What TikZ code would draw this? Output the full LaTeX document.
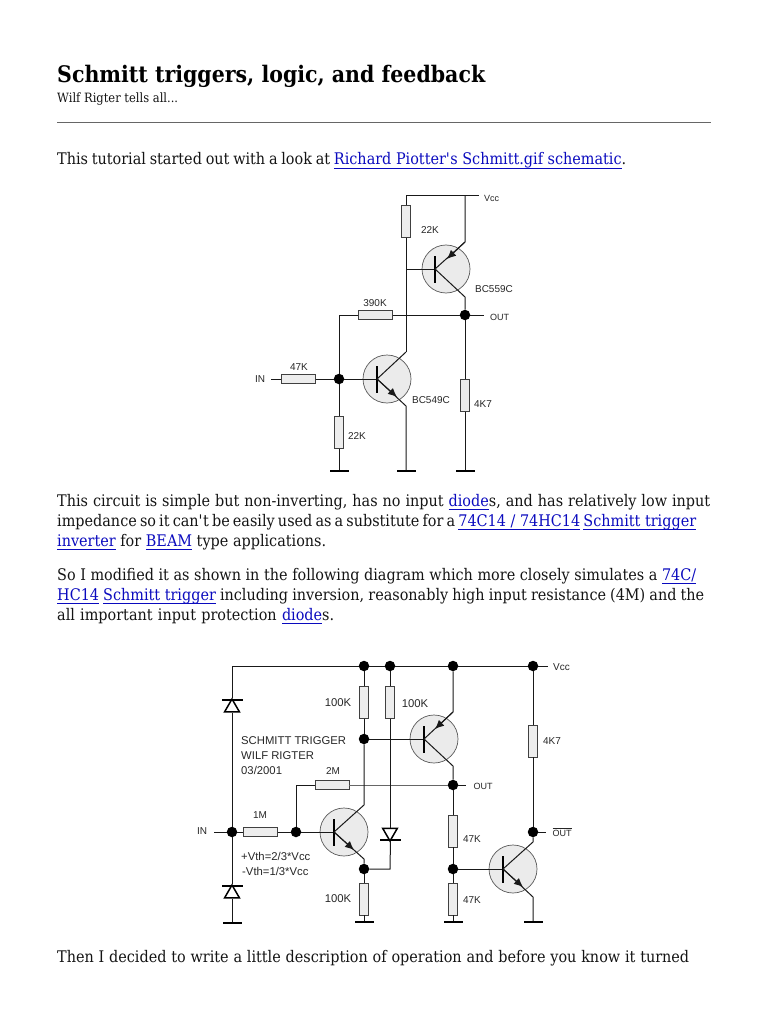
\documentclass[tikz,border=0pt]{standalone}
\usepackage{fontspec}
\setmainfont[FakeStretch=0.9]{DejaVu Serif}
\setsansfont{Liberation Sans}
\usetikzlibrary{arrows.meta,shapes.geometric}
\definecolor{linkblue}{RGB}{10,10,190}
\definecolor{bodygray}{RGB}{20,20,20}
\newcommand{\plink}[1]{\textcolor{linkblue}{\underline{\smash{#1}\rule[-1.8pt]{0pt}{0pt}}}}

\begin{document}
\begin{tikzpicture}
[
x=1pt, y=-1pt,
heading/.style={anchor=base west, inner sep=0pt, font=\bfseries\fontsize{22.8}{28}\selectfont},
subhead/.style={anchor=base west, inner sep=0pt, text=bodygray, font=\fontsize{12.8}{16}\selectfont},
bodyline/.style={anchor=base west, inner sep=0pt, text=bodygray, font=\fontsize{16}{20}\selectfont},
lbl/.style={inner sep=0pt, text=black!85, font=\sffamily\fontsize{10}{12}\selectfont},
lblw/.style={lbl, anchor=base west},
lblb/.style={lbl, font=\sffamily\fontsize{11.3}{13}\selectfont},
lblbw/.style={lblb, anchor=base west},
wire/.style={line width=1pt, draw=black!90},
thinwire/.style={line width=0.8pt, draw=black!60},
emit/.style={wire, -{Latex[length=9pt,width=8pt]}},
junc/.style={circle, fill=black, inner sep=0pt, minimum size=10.5pt},
resv/.style={rectangle, draw=black!75, line width=0.8pt, fill=black!7, inner sep=0pt, minimum width=9.5pt, minimum height=32pt},
resh/.style={rectangle, draw=black!75, line width=0.8pt, fill=black!7, inner sep=0pt, minimum width=34pt, minimum height=9pt},
tran/.style={circle, draw=black!65, line width=0.7pt, fill=black!8, inner sep=0pt, minimum size=48pt},
tbar/.style={rectangle, fill=black, inner sep=0pt, minimum width=2pt, minimum height=27pt},
gnd/.style={rectangle, fill=black, inner sep=0pt, minimum width=19pt, minimum height=2pt},
dbar/.style={rectangle, fill=black, inner sep=0pt, minimum width=21pt, minimum height=2pt},
dup/.style={regular polygon, regular polygon sides=3, draw=black, line width=1.5pt, fill=white, inner sep=0pt, minimum size=17pt},
ddown/.style={dup, shape border rotate=180}
]
\useasboundingbox (0,0) rectangle (768,1024);

%Page text
\node[heading]  (title)   at (57,83)  {Schmitt triggers, logic, and feedback};
\node[subhead]  (byline)  at (57,103) {Wilf Rigter tells all...};
\coordinate     (rulel)   at (57,122.5);
\coordinate     (ruler)   at (711,122.5);
\draw[line width=1.2pt, draw=black!60] (rulel) -- (ruler);
\node[bodyline] (intro)   at (57,165) {\makebox[569pt][s]{This tutorial started out with a look at \plink{Richard Piotter\textquotesingle s Schmitt.gif schematic}.}};
\node[bodyline] (parafa)  at (57,506) {\makebox[653pt][s]{This circuit is simple but non-inverting, has no input \plink{diode}s, and has relatively low input}};
\node[bodyline] (parafb)  at (57,526) {\makebox[639pt][s]{impedance so it can\textquotesingle t be easily used as a substitute for a \plink{74C14 / 74HC14} \plink{Schmitt trigger}}};
\node[bodyline] (parafc)  at (57,546) {\makebox[269pt][s]{\plink{inverter} for \plink{BEAM} type applications.}};
\node[bodyline] (paraga)  at (57,580) {\makebox[639pt][s]{So I modified it as shown in the following diagram which more closely simulates a \plink{74C/}}};
\node[bodyline] (paragb)  at (57,600) {\makebox[647pt][s]{\plink{HC14} \plink{Schmitt trigger} including inversion, reasonably high input resistance (4M) and the}};
\node[bodyline] (paragc)  at (57,620) {\makebox[277pt][s]{all important input protection \plink{diode}s.}};
\node[bodyline] (parah)   at (57,962) {\makebox[632pt][s]{Then I decided to write a little description of operation and before you know it turned}};

%First circuit
\coordinate     (avccl)  at (406,196);
\coordinate     (avcce)  at (465,196);
\coordinate     (avccr)  at (479,196);
\coordinate     (abase)  at (406,269);
\coordinate     (across) at (339,315);
\coordinate     (aoutr)  at (484,315);
\coordinate     (ain)    at (271,379);
\node[tran]     (qbc)    at (446,269) {};
\node[tbar]     (qbcbar) at (435,269) {};
\coordinate     (qbce)   at (465,242);
\coordinate     (qbct)   at (447,259);
\coordinate     (qbcc)   at (465,297);
\node[tran]     (qbd)    at (387,379) {};
\node[tbar]     (qbdbar) at (377,379) {};
\coordinate     (qbdc)   at (406,352);
\coordinate     (qbde)   at (406,406);
\coordinate     (qbdt)   at (397,397);
\node[junc]     (aout)   at (465,315) {};
\node[junc]     (anode)  at (339,379) {};
\node[resv, node distance=25.5pt] (rtop)  [below of=avccl] {};
\node[resh, node distance=36.5pt] (rfb)   [right of=across] {};
\node[resh, node distance=40.5pt] (rin)   [left of=anode] {};
\node[resv, node distance=53.5pt] (rlow)  [below of=anode] {};
\node[resv, node distance=80.5pt] (rout)  [below of=aout] {};
\node[gnd]      (gnda)   at (339,471) {};
\node[gnd]      (gndb)   at (406,471) {};
\node[gnd]      (gndc)   at (465,471) {};

\node[lblw] (lvcca) at (484,201.5) {\fontsize{9}{11}\selectfont Vcc};
\node[lbl]  (ltop)  at (430,230) {22K};
\node[lbl]  (lqbc)  at (494,289) {BC559C};
\node[lbl]  (lfb)   at (375,303) {390K};
\node[lblw] (louta) at (490,320) {\fontsize{9}{11}\selectfont OUT};
\node[lbl]  (lin)   at (299,367) {47K};
\node[lbl]  (lina)  at (260,379) {IN};
\node[lbl]  (lqbd)  at (431,400) {BC549C};
\node[lbl]  (lout)  at (483,404) {4K7};
\node[lbl]  (llow)  at (357,436) {22K};

%Lines
\draw[wire] (avccl) -- (avccr);
\draw[wire] (avccl) -- (rtop);
\draw[wire] (rtop) -- (qbdc);
\draw[wire] (abase) -- (qbcbar);
\draw[wire] (avcce) -- (qbce) -- (qbcbar.center);
\draw[emit] (qbce) -- (qbct);
\draw[wire] (qbcbar.center) -- (qbcc) -- (aout);
\draw[wire] (aout) -- (aoutr);
\draw[wire] (anode) -- (across) -- (rfb);
\draw[wire] (rfb) -- (aout);
\draw[wire] (ain) -- (rin);
\draw[wire] (rin) -- (anode);
\draw[wire] (anode) -- (qbdbar);
\draw[wire] (qbdbar.center) -- (qbdc);
\draw[wire] (qbdbar.center) -- (qbde) -- (gndb);
\draw[emit] (qbdbar.center) -- (qbdt);
\draw[wire] (anode) -- (rlow);
\draw[wire] (rlow) -- (gnda);
\draw[wire] (aout) -- (rout);
\draw[wire] (rout) -- (gndc);

%Second circuit
\coordinate     (bvccl)  at (232,666);
\coordinate     (bvccr)  at (548,666);
\coordinate     (bin)    at (214,832);
\coordinate     (bfbc)   at (296,785);
\coordinate     (boutr)  at (466,785);
\coordinate     (boutbr) at (546,832);
\node[junc]     (jvcca)  at (364,666) {};
\node[junc]     (jvccb)  at (390,666) {};
\node[junc]     (jvccc)  at (453,666) {};
\node[junc]     (jvccd)  at (533,666) {};
\node[junc]     (jbase)  at (364,739) {};
\node[junc]     (jout)   at (453,785) {};
\node[junc]     (jin)    at (232,832) {};
\node[junc]     (jmid)   at (296,832) {};
\node[junc]     (jinv)   at (533,832) {};
\node[junc]     (jemit)  at (364,869) {};
\node[junc]     (jdiv)   at (453,869) {};
\coordinate     (dcorn)  at (390,869);

\node[tran]     (qa)     at (344,832) {};
\node[tbar]     (qabar)  at (334,832) {};
\coordinate     (qac)    at (364,805);
\coordinate     (qae)    at (364,859);
\coordinate     (qat)    at (354,850);
\node[tran]     (qb)     at (434,739) {};
\node[tbar]     (qbbar)  at (424,739) {};
\coordinate     (qbe)    at (453,712);
\coordinate     (qbc2)   at (453,766);
\coordinate     (qbt)    at (435,729);
\node[tran]     (qc)     at (513,869) {};
\node[tbar]     (qcbar)  at (503,869) {};
\coordinate     (qcc)    at (533,842);
\coordinate     (qce)    at (533,897);
\coordinate     (qct)    at (523,887);

\node[resv, node distance=36.5pt] (rba)  [below of=jvcca] {};
\node[resv, node distance=36.5pt] (rbb)  [below of=jvccb] {};
\node[resv, node distance=75pt]   (rbc)  [below of=jvccd] {};
\node[resh, node distance=28.5pt] (rbd)  [right of=jin] {};
\node[resh, node distance=36pt]   (rbe)  [right of=bfbc] {};
\node[resv, node distance=30pt]   (rbf)  [below of=jemit] {};
\node[resv, node distance=46pt]   (rbg)  [below of=jout] {};
\node[resv, node distance=30pt]   (rbh)  [below of=jdiv] {};

\node[dbar]     (dab)    at (232,699.5) {};
\node[dup]      (da)     at (232,707.5) {};
\node[dbar]     (dbb)    at (232,885.5) {};
\node[dup]      (db)     at (232,893.5) {};
\node[dbar]     (dcb)    at (390.5,840) {};
\node[ddown]    (dc)     at (390,832.5) {};

\node[gnd]      (gndd)   at (232,923) {};
\node[gnd]      (gnde)   at (364,922) {};
\node[gnd]      (gndf)   at (453,922) {};
\node[gnd]      (gndg)   at (533,922) {};

\node[lblw]  (lvccb) at (553,670) {Vcc};
\node[lblb]  (lba)   at (338,703) {100K};
\node[lblb]  (lbb)   at (415,704) {100K};
\node[lblbw] (ltit)  at (241,744) {SCHMITT TRIGGER};
\node[lblbw] (lwho)  at (241,759) {WILF RIGTER};
\node[lblbw] (ldate) at (241,774) {03/2001};
\node[lbl]   (lbe)   at (333,771) {2M};
\node[lbl]   (lbc)   at (552,741) {4K7};
\node[lbl]   (loutb) at (483,786) {\fontsize{9}{11}\selectfont OUT};
\node[lbl]   (lbd)   at (260,815) {1M};
\node[lbl]   (linb)  at (202,831) {IN};
\node[lbl]   (lnout) at (562,832) {\fontsize{9}{11}\selectfont $\overline{\mbox{OUT}}$};
\node[lbl]   (lbg)   at (472,839) {47K};
\node[lblbw] (lvtha) at (241,860) {+Vth=2/3*Vcc};
\node[lblbw] (lvthb) at (242,875) {-Vth=1/3*Vcc};
\node[lblb]  (lbf)   at (338,899) {100K};
\node[lbl]   (lbh)   at (472,900) {47K};

%Lines
\draw[wire] (bvccl) -- (jvcca);
\draw[wire] (jvcca) -- (jvccb);
\draw[wire] (jvccb) -- (jvccc);
\draw[wire] (jvccc) -- (jvccd);
\draw[wire] (jvccd) -- (bvccr);
\draw[wire] (bvccl) -- (dab);
\draw[wire] (da) -- (jin);
\draw[wire] (jin) -- (dbb);
\draw[wire] (db) -- (gndd);
\draw[wire] (bin) -- (jin);
\draw[wire] (jin) -- (rbd);
\draw[wire] (rbd) -- (jmid);
\draw[wire] (jmid) -- (qabar);
\draw[wire] (jmid) -- (bfbc) -- (rbe);
\draw[thinwire] (rbe) -- (jout);
\draw[wire] (jout) -- (boutr);
\draw[wire] (jvcca) -- (rba);
\draw[wire] (rba) -- (jbase);
\draw[wire] (jbase) -- (qac) -- (qabar.center);
\draw[wire] (jbase) -- (qbbar);
\draw[wire] (qabar.center) -- (qae) -- (jemit);
\draw[emit] (qabar.center) -- (qat);
\draw[wire] (jemit) -- (rbf);
\draw[wire] (rbf) -- (gnde);
\draw[wire] (jemit) -- (dcorn) -- (dcb);
\draw[wire] (jvccb) -- (rbb);
\draw[wire] (rbb) -- (dc);
\draw[wire] (jvccc) -- (qbe) -- (qbbar.center);
\draw[emit] (qbe) -- (qbt);
\draw[wire] (qbbar.center) -- (qbc2) -- (jout);
\draw[wire] (jout) -- (rbg);
\draw[wire] (rbg) -- (jdiv);
\draw[wire] (jdiv) -- (rbh);
\draw[wire] (rbh) -- (gndf);
\draw[wire] (jdiv) -- (qcbar);
\draw[wire] (jvccd) -- (rbc);
\draw[wire] (rbc) -- (jinv);
\draw[wire] (jinv) -- (boutbr);
\draw[wire] (jinv) -- (qcc) -- (qcbar.center);
\draw[wire] (qcbar.center) -- (qce) -- (gndg);
\draw[emit] (qcbar.center) -- (qct);
\end{tikzpicture}
\end{document}
